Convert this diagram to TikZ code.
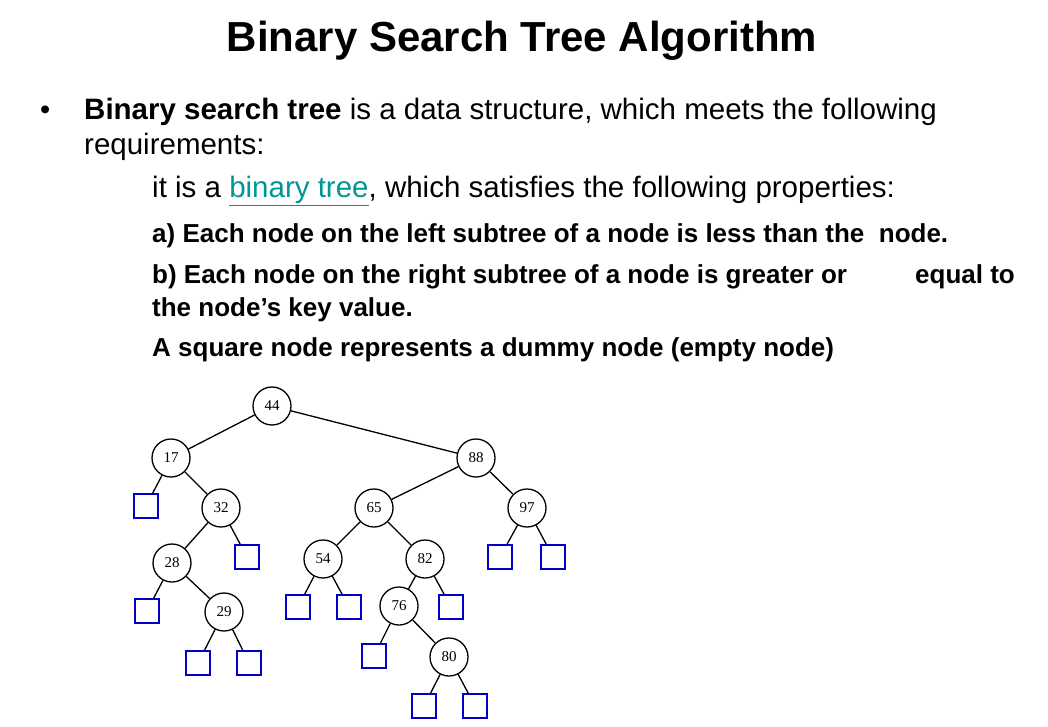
\documentclass[tikz,border=0pt]{standalone}
\usepackage{fontspec}
\setmainfont{Liberation Sans}
\newfontfamily\treefont{Liberation Serif}
\definecolor{linkc}{RGB}{0,150,150}
\definecolor{sqc}{RGB}{0,0,200}
\newcommand{\myul}[1]{\underline{#1}}
\begin{document}
\begin{tikzpicture}[x=1pt,y=-1pt,
  cn/.style={circle,draw,line width=1.3pt,minimum size=38pt,inner sep=0pt,font=\treefont\fontsize{15}{15}\selectfont},
  sq/.style={rectangle,draw=sqc,line width=1.5pt,minimum size=24pt,inner sep=0pt},
  ed/.style={line width=1.3pt},
  tx/.style={anchor=base west,inner sep=0pt}]
\useasboundingbox (0,0) rectangle (1048,727);
\node[anchor=base,inner sep=0pt,font=\bfseries\fontsize{42}{42}\selectfont] (title) at (522,52) {Binary Search Tree Algorithm};
\node[tx,font=\fontsize{29}{29}\selectfont] (bul) at (40,120) {•};
\node[tx,font=\fontsize{29.5}{29}\selectfont] (l1) at (84,120) {\textbf{Binary search tree} is a data structure, which meets the following};
\node[tx,font=\fontsize{29.5}{29}\selectfont] (l2) at (84,155) {requirements:};
\node[tx,font=\fontsize{29.5}{29}\selectfont] (l3) at (152,198) {it is a {\color{linkc}\myul{binary tree}}, which satisfies the following properties:};
\node[tx,font=\bfseries\fontsize{26}{26}\selectfont] (la) at (152,243) {a) Each node on the left subtree of a node is less than the\ \ node.};
\node[tx,font=\bfseries\fontsize{26}{26}\selectfont] (lb) at (152,283) {b) Each node on the right subtree of a node is greater or};
\node[tx,font=\bfseries\fontsize{26}{26}\selectfont] (lb2) at (915,283) {equal to};
\node[tx,font=\bfseries\fontsize{26}{26}\selectfont] (lc) at (152,316) {the node’s key value.};
\node[tx,font=\bfseries\fontsize{26}{26}\selectfont] (ld) at (152,356) {A square node represents a dummy node (empty node)};
% tree
\node[cn] (n44) at (272,406) {44};
\node[cn] (n17) at (171,458) {17};
\node[cn] (n88) at (476,458) {88};
\node[cn] (n32) at (221,508) {32};
\node[cn] (n65) at (374,508) {65};
\node[cn] (n97) at (527,508) {97};
\node[cn] (n28) at (172,563) {28};
\node[cn] (n54) at (323,559) {54};
\node[cn] (n82) at (425,559) {82};
\node[cn] (n29) at (224,612) {29};
\node[cn] (n76) at (399,606) {76};
\node[cn] (n80) at (449,657) {80};
\node[sq] (s1) at (146,506) {};
\node[sq] (s2) at (247,557) {};
\node[sq] (s3) at (147,611) {};
\node[sq] (s4) at (198,663) {};
\node[sq] (s5) at (249,663) {};
\node[sq] (s6) at (298,607) {};
\node[sq] (s7) at (349,607) {};
\node[sq] (s8) at (374,656) {};
\node[sq] (s9) at (451,607) {};
\node[sq] (s10) at (500,557) {};
\node[sq] (s11) at (553,557) {};
\node[sq] (s12) at (424,706) {};
\node[sq] (s13) at (475,706) {};
\foreach \a/\b in {n44/n17,n44/n88,n17/s1,n17/n32,n32/n28,n32/s2,n28/s3,n28/n29,n29/s4,n29/s5,
  n88/n65,n88/n97,n65/n54,n65/n82,n54/s6,n54/s7,n82/n76,n82/s9,n76/s8,n76/n80,n80/s12,n80/s13,n97/s10,n97/s11}
  \draw[ed] (\a) -- (\b);
\end{tikzpicture}
\end{document}
